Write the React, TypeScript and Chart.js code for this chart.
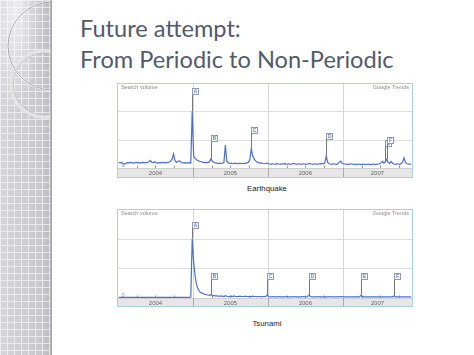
import React, { useEffect, useRef } from "react";
import { Chart, registerables } from "chart.js";

Chart.register(...registerables);

// ---------------- data ----------------
const yearLabels = ["2004", "2005", "2006", "2007"];
const firstYear = 2004;
const weeksPerYear = 52;
const weeksShownLastYear = 48;
const gridValues = [1, 2];
const flagLetters = ["A", "B", "C", "D", "E", "F"];

// Earthquake – weekly search volume
const quake2004 = [
  0.19, 0.18, 0.2, 0.15, 0.14, 0.17, 0.19, 0.18, 0.2, 0.19,
  0.17, 0.18, 0.2, 0.19, 0.18, 0.17, 0.19, 0.2, 0.18, 0.19,
  0.2, 0.22, 0.27, 0.2, 0.19, 0.23, 0.18, 0.17, 0.19, 0.18,
  0.2, 0.19, 0.18, 0.2, 0.19, 0.21, 0.24, 0.3, 0.5, 0.27,
  0.2, 0.23, 0.26, 0.21, 0.19, 0.18, 0.19, 0.17, 0.18, 0.19,
  0.18, 2.0,
];
const quake2005 = [
  0.42, 0.34, 0.29, 0.26, 0.24, 0.22, 0.21, 0.2, 0.19, 0.2,
  0.19, 0.22, 0.33, 0.23, 0.2, 0.18, 0.17, 0.16, 0.17, 0.16,
  0.17, 0.2, 0.81, 0.24, 0.18, 0.16, 0.17, 0.15, 0.16, 0.17,
  0.16, 0.15, 0.17, 0.16, 0.15, 0.17, 0.16, 0.18, 0.2, 0.3,
  0.68, 0.42, 0.31, 0.25, 0.21, 0.19, 0.17, 0.18, 0.16, 0.15,
  0.16, 0.17,
];
const quake2006 = [
  0.15, 0.14, 0.13, 0.15, 0.14, 0.13, 0.16, 0.14, 0.13, 0.15,
  0.14, 0.16, 0.13, 0.14, 0.15, 0.13, 0.14, 0.16, 0.15, 0.14,
  0.13, 0.15, 0.14, 0.13, 0.15, 0.14, 0.13, 0.14, 0.16, 0.15,
  0.14, 0.13, 0.15, 0.14, 0.13, 0.15, 0.14, 0.16, 0.15, 0.18,
  0.42, 0.2, 0.15, 0.14, 0.13, 0.15, 0.14, 0.13, 0.15, 0.2,
  0.24, 0.16,
];
const quake2007 = [
  0.15, 0.14, 0.13, 0.14, 0.13, 0.15, 0.14, 0.13, 0.14, 0.12,
  0.13, 0.14, 0.12, 0.13, 0.14, 0.13, 0.12, 0.14, 0.13, 0.12,
  0.13, 0.14, 0.12, 0.13, 0.14, 0.15, 0.18, 0.24, 0.17, 0.22,
  0.31, 0.2, 0.16, 0.23, 0.17, 0.14, 0.13, 0.15, 0.14, 0.13,
  0.16, 0.22, 0.36, 0.19, 0.15, 0.14, 0.13, 0.14,
];

// Tsunami – weekly search volume
const tsunami2004 = [
  0.02, 0.02, 0.02, 0.02, 0.02, 0.02, 0.02, 0.02, 0.02, 0.02,
  0.02, 0.02, 0.02, 0.02, 0.02, 0.02, 0.02, 0.02, 0.02, 0.02,
  0.02, 0.02, 0.02, 0.02, 0.02, 0.02, 0.02, 0.02, 0.02, 0.02,
  0.02, 0.02, 0.02, 0.02, 0.02, 0.02, 0.02, 0.02, 0.02, 0.02,
  0.02, 0.02, 0.02, 0.02, 0.02, 0.02, 0.02, 0.02, 0.02, 0.02,
  0.03, 2.0,
];
const tsunami2005 = [
  1.2, 0.75, 0.45, 0.3, 0.22, 0.18, 0.16, 0.14, 0.12, 0.11,
  0.1, 0.09, 0.11, 0.08, 0.08, 0.07, 0.07, 0.06, 0.07, 0.06,
  0.06, 0.05, 0.08, 0.06, 0.05, 0.05, 0.06, 0.05, 0.07, 0.05,
  0.05, 0.05, 0.06, 0.05, 0.05, 0.05, 0.06, 0.05, 0.05, 0.05,
  0.05, 0.06, 0.05, 0.05, 0.04, 0.05, 0.05, 0.04, 0.05, 0.05,
  0.05, 0.09,
];
const tsunami2006 = [
  0.05, 0.04, 0.04, 0.05, 0.04, 0.04, 0.04, 0.05, 0.04, 0.04,
  0.04, 0.04, 0.05, 0.04, 0.04, 0.04, 0.04, 0.04, 0.05, 0.04,
  0.04, 0.04, 0.04, 0.04, 0.05, 0.04, 0.04, 0.05, 0.09, 0.05,
  0.04, 0.04, 0.04, 0.04, 0.04, 0.05, 0.04, 0.04, 0.04, 0.04,
  0.04, 0.04, 0.05, 0.04, 0.04, 0.04, 0.04, 0.04, 0.04, 0.05,
  0.04, 0.05,
];
const tsunami2007 = [
  0.04, 0.04, 0.04, 0.04, 0.04, 0.04, 0.04, 0.04, 0.04, 0.04,
  0.04, 0.04, 0.09, 0.04, 0.04, 0.04, 0.04, 0.04, 0.04, 0.04,
  0.04, 0.04, 0.04, 0.04, 0.04, 0.04, 0.04, 0.04, 0.04, 0.04,
  0.04, 0.04, 0.04, 0.04, 0.04, 0.07, 0.04, 0.04, 0.04, 0.04,
  0.04, 0.04, 0.04, 0.04, 0.04, 0.04, 0.04, 0.04,
];

const quakeSeries = [...quake2004, ...quake2005, ...quake2006, ...quake2007];
const tsunamiSeries = [...tsunami2004, ...tsunami2005, ...tsunami2006, ...tsunami2007];

// event weeks (index into the weekly series)
const quakeFlagWeeks = [51, 64, 92, 144, 185, 186];
const tsunamiFlagWeeks = [51, 64, 103, 132, 168, 191];

// ---------------- style ----------------
const LINE = "#4d6fc8";
const FRAME = "#a6d2d9";
const quakeFlagTops = [2.83, 1.17, 1.45, 1.24, 0.98, 1.1];
const tsunamiFlagTops = [2.55, 0.85, 0.85, 0.85, 0.85, 0.84];
const xMax = firstYear + yearLabels.length - 1 + weeksShownLastYear / weeksPerYear;

const trendsPlugin = {
  id: "trends",
  beforeDraw(chart: any) {
    const { ctx, width, height } = chart;
    ctx.save();
    ctx.fillStyle = "#ffffff";
    ctx.fillRect(0, 0, width, height);
    ctx.restore();
  },
  beforeDatasetsDraw(chart: any) {
    const { ctx, chartArea: a, scales, height } = chart;
    const x = scales.x;
    const y = scales.y;
    ctx.save();
    ctx.strokeStyle = "#dedede";
    ctx.lineWidth = 1;
    gridValues.forEach((g) => {
      const py = Math.round(y.getPixelForValue(g)) + 0.5;
      ctx.beginPath();
      ctx.moveTo(a.left, py);
      ctx.lineTo(a.right, py);
      ctx.stroke();
    });
    ctx.fillStyle = "#e6e6e6";
    ctx.fillRect(0, a.bottom, chart.width, height - a.bottom);
    ctx.strokeStyle = "#cfcfcf";
    ctx.beginPath();
    ctx.moveTo(0, a.bottom + 0.5);
    ctx.lineTo(chart.width, a.bottom + 0.5);
    ctx.stroke();
    yearLabels.forEach((lab, i) => {
      const yr = firstYear + i;
      if (i > 0) {
        const px = Math.round(x.getPixelForValue(yr)) + 0.5;
        ctx.strokeStyle = "#d6d6d6";
        ctx.beginPath();
        ctx.moveTo(px, a.top);
        ctx.lineTo(px, a.bottom);
        ctx.stroke();
        ctx.strokeStyle = "#a9a9a9";
        ctx.beginPath();
        ctx.moveTo(px, a.bottom);
        ctx.lineTo(px, height);
        ctx.stroke();
      }
      const end = Math.min(yr + 1, xMax);
      const cx = (x.getPixelForValue(yr) + x.getPixelForValue(end)) / 2;
      ctx.fillStyle = "#666666";
      ctx.font = "6px 'Liberation Sans', Arial, sans-serif";
      ctx.textAlign = "center";
      ctx.textBaseline = "middle";
      ctx.fillText(lab, cx, (a.bottom + height) / 2 + 0.5);
      ctx.strokeStyle = "#9a9a9a";
      [0.25, 0.5, 0.75].forEach((q) => {
        if (yr + q > xMax) return;
        const tx = Math.round(x.getPixelForValue(yr + q)) + 0.5;
        ctx.beginPath();
        ctx.moveTo(tx, a.bottom);
        ctx.lineTo(tx, a.bottom - 2.5);
        ctx.stroke();
      });
    });
    ctx.fillStyle = "#8a8a8a";
    ctx.font = "5.5px 'Liberation Sans', Arial, sans-serif";
    ctx.textBaseline = "middle";
    ctx.textAlign = "left";
    ctx.fillText("Search volume", a.left + 3, a.top + 4.5);
    ctx.fillText("0", a.left + 3.5, a.bottom - 3);
    ctx.textAlign = "right";
    ctx.fillText("Google Trends", a.right - 3, a.top + 4.5);
    ctx.restore();
  },
  afterDatasetsDraw(chart: any, _args: any, opts: any) {
    const { ctx, scales, width, height } = chart;
    const x = scales.x;
    const y = scales.y;
    const series: number[] = opts.series;
    const size = 6;
    ctx.save();
    (opts.weeks as number[]).forEach((w, i) => {
      const px = Math.round(x.getPixelForValue(firstYear + (w + 0.5) / weeksPerYear)) + 0.5;
      const py = y.getPixelForValue(series[w]);
      const top = Math.round(y.getPixelForValue(opts.tops[i])) + 0.5;
      ctx.strokeStyle = "#777777";
      ctx.lineWidth = 1;
      ctx.beginPath();
      ctx.moveTo(px, top + size);
      ctx.lineTo(px, py);
      ctx.stroke();
      ctx.fillStyle = "#f7f8fb";
      ctx.fillRect(px, top, size, size);
      ctx.strokeStyle = "#8c9ab0";
      ctx.strokeRect(px, top, size, size);
      ctx.fillStyle = "#4a64a0";
      ctx.font = "5px 'Liberation Sans', Arial, sans-serif";
      ctx.textAlign = "center";
      ctx.textBaseline = "middle";
      ctx.fillText(flagLetters[i], px + size / 2, top + size / 2 + 0.5);
    });
    ctx.strokeStyle = FRAME;
    ctx.lineWidth = 1;
    ctx.strokeRect(0.5, 0.5, width - 1, height - 1);
    ctx.restore();
  },
};

type TrendProps = {
  series: number[];
  weeks: number[];
  tops: number[];
  left: number;
  top: number;
  width: number;
  height: number;
  stripH: number;
};

function TrendChart({ series, weeks, tops, left, top, width, height, stripH }: TrendProps) {
  const ref = useRef<HTMLCanvasElement>(null);
  useEffect(() => {
    const chart = new Chart(ref.current as HTMLCanvasElement, {
      type: "line",
      data: {
        datasets: [
          {
            data: series.map((v, i) => ({ x: firstYear + (i + 0.5) / weeksPerYear, y: v })),
            borderColor: LINE,
            borderWidth: 1.2,
            pointRadius: 0,
            tension: 0,
            fill: false,
          },
        ],
      },
      options: {
        animation: false,
        responsive: false,
        devicePixelRatio: 1,
        events: [],
        layout: { padding: { left: 1, right: 1, top: 0, bottom: stripH } },
        scales: {
          x: { type: "linear", display: false, min: firstYear, max: xMax },
          y: { display: false, min: 0, max: 3 },
        },
        plugins: {
          legend: { display: false },
          tooltip: { enabled: false },
          // @ts-ignore
          trends: { series, weeks, tops },
        },
      } as any,
      plugins: [trendsPlugin as any],
    });
    return () => chart.destroy();
  }, []);
  return (
    <canvas
      ref={ref}
      width={width}
      height={height}
      style={{ position: "absolute", left, top, width, height }}
    />
  );
}

function SideStrip() {
  return (
    <svg width={53} height={355} style={{ position: "absolute", left: 0, top: 0 }}>
      <defs>
        <linearGradient id="sg" x1="0" x2="1" y1="0" y2="0">
          <stop offset="0" stopColor="#d6d6da" />
          <stop offset="0.8" stopColor="#c8c8cc" />
          <stop offset="1" stopColor="#b8b8bc" />
        </linearGradient>
        <pattern id="gp" width="7" height="7" patternUnits="userSpaceOnUse">
          <path d="M0 0.5H7M0.5 0V7" stroke="#f4f4f6" strokeWidth="1" opacity="0.75" />
        </pattern>
        <radialGradient id="tl" cx="0.3" cy="0.05" r="0.5" gradientUnits="objectBoundingBox">
          <stop offset="0" stopColor="#ffffff" stopOpacity="0.6" />
          <stop offset="1" stopColor="#ffffff" stopOpacity="0" />
        </radialGradient>
        <clipPath id="cp">
          <rect x="0" y="0" width="52" height="355" />
        </clipPath>
      </defs>
      <g clipPath="url(#cp)">
        <rect x="0" y="0" width="52" height="355" fill="url(#sg)" />
        <rect x="0" y="0" width="52" height="355" fill="url(#gp)" />
        <rect x="0" y="0" width="52" height="200" fill="url(#tl)" />
        <circle cx="44" cy="84" r="33" fill="none" stroke="#e4e4e6" strokeWidth="3.5" />
        <circle cx="44" cy="84" r="31" fill="none" stroke="#b8b8bc" strokeWidth="0.6" />
        <circle cx="52" cy="46" r="44" fill="none" stroke="#ffffff" strokeWidth="1.6" />
        <circle cx="52" cy="46" r="44" fill="none" stroke="#8e8e92" strokeWidth="0.8" />
      </g>
      <rect x="50.5" y="0" width="1.5" height="355" fill="#a6a6aa" />
    </svg>
  );
}

export default function App() {
  useEffect(() => {
    document.body.style.margin = "0";
  }, []);
  return (
    <div style={{ position: "fixed", left: 0, top: 0, width: 474, height: 355, background: "#ffffff", overflow: "hidden" }}>
      <SideStrip />
      <svg width={474} height={355} style={{ position: "absolute", left: 0, top: 0 }}>
        <text x={80} y={37.3} fontFamily="Lato, 'Open Sans', sans-serif" fontSize={23.6} fill="#535a6b">
          Future attempt:
        </text>
        <text x={80} y={67.7} fontFamily="Lato, 'Open Sans', sans-serif" fontSize={23.6} fill="#535a6b">
          From Periodic to Non-Periodic
        </text>
        <text x={267} y={190.5} textAnchor="middle" fontFamily="'Liberation Sans', Arial, sans-serif" fontSize={7.8} fill="#222222">
          Earthquake
        </text>
        <text x={267} y={325.5} textAnchor="middle" fontFamily="'Liberation Sans', Arial, sans-serif" fontSize={7.8} fill="#222222">
          Tsunami
        </text>
      </svg>
      <TrendChart series={quakeSeries} weeks={quakeFlagWeeks} tops={quakeFlagTops} left={117} top={83} width={296} height={95} stripH={10} />
      <TrendChart series={tsunamiSeries} weeks={tsunamiFlagWeeks} tops={tsunamiFlagTops} left={117} top={209} width={296} height={98} stripH={9} />
    </div>
  );
}
